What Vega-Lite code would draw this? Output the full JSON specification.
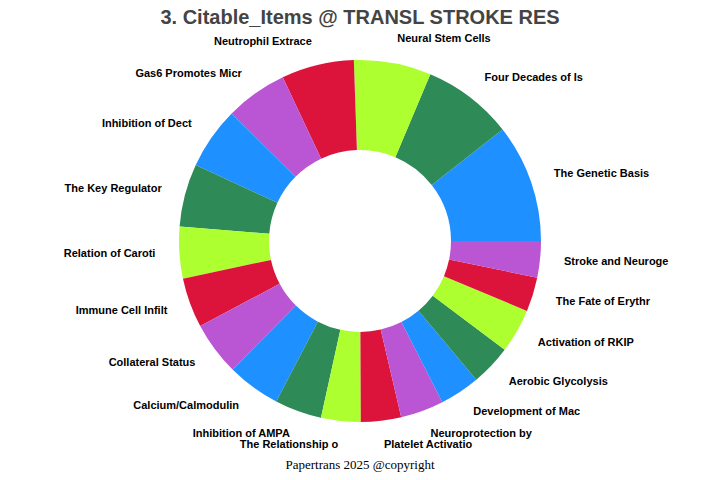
{
  "$schema": "https://vega.github.io/schema/vega-lite/v6.json",
  "background": "#ffffff",
  "padding": {"top": 8, "left": 0, "right": 0, "bottom": 0},
  "spacing": 0,
  "config": {"view": {"stroke": null}, "font": "Liberation Sans"},
  "title": {
    "text": "Papertrans 2025 @copyright",
    "orient": "bottom",
    "anchor": "middle",
    "font": "Liberation Serif",
    "fontSize": 13,
    "fontWeight": "normal",
    "color": "#000000",
    "offset": 9
  },
  "vconcat": [
    {
      "title": {
        "text": "3. Citable_Items @ TRANSL STROKE RES",
        "anchor": "middle",
        "font": "Liberation Sans",
        "fontSize": 20,
        "fontWeight": "bold",
        "color": "#444444",
        "offset": 4
      },
      "width": 720,
      "height": 418,
      "data": {
        "values": [
          {"idx": 1, "label": "The Genetic Basis", "value": 38.0},
          {"idx": 2, "label": "Four Decades of Is", "value": 29.1},
          {"idx": 3, "label": "Neural Stem Cells", "value": 24.8},
          {"idx": 4, "label": "Neutrophil Extrace", "value": 23.3},
          {"idx": 5, "label": "Gas6 Promotes Micr", "value": 19.9},
          {"idx": 6, "label": "Inhibition of Dect", "value": 20.0},
          {"idx": 7, "label": "The Key Regulator", "value": 20.2},
          {"idx": 8, "label": "Relation of Caroti", "value": 16.6},
          {"idx": 9, "label": "Immune Cell Infilt", "value": 16.0},
          {"idx": 10, "label": "Collateral Status", "value": 17.2},
          {"idx": 11, "label": "Calcium/Calmodulin", "value": 17.2},
          {"idx": 12, "label": "Inhibition of AMPA", "value": 15.1},
          {"idx": 13, "label": "The Relationship o", "value": 12.7},
          {"idx": 14, "label": "Platelet Activatio", "value": 12.9},
          {"idx": 15, "label": "Neuroprotection by", "value": 13.9},
          {"idx": 16, "label": "Development of Mac", "value": 12.9},
          {"idx": 17, "label": "Aerobic Glycolysis", "value": 13.1},
          {"idx": 18, "label": "Activation of RKIP", "value": 14.2},
          {"idx": 19, "label": "The Fate of Erythr", "value": 11.0},
          {"idx": 20, "label": "Stroke and Neuroge", "value": 11.7}
        ]
      },
      "encoding": {
        "theta": {
          "field": "value",
          "type": "quantitative",
          "stack": true,
          "scale": {"range": [1.5707963, -4.712389]}
        },
        "order": {"field": "idx", "type": "quantitative"}
      },
      "layer": [
        {
          "mark": {"type": "arc", "innerRadius": 91, "outerRadius": 181},
          "encoding": {
            "color": {
              "field": "label",
              "type": "nominal",
              "legend": null,
              "scale": {
                "domain": [
                  "The Genetic Basis", "Four Decades of Is", "Neural Stem Cells", "Neutrophil Extrace", "Gas6 Promotes Micr",
                  "Inhibition of Dect", "The Key Regulator", "Relation of Caroti", "Immune Cell Infilt", "Collateral Status",
                  "Calcium/Calmodulin", "Inhibition of AMPA", "The Relationship o", "Platelet Activatio", "Neuroprotection by",
                  "Development of Mac", "Aerobic Glycolysis", "Activation of RKIP", "The Fate of Erythr", "Stroke and Neuroge"
                ],
                "range": [
                  "#1e90ff", "#2e8b57", "#adff2f", "#dc143c", "#ba55d3",
                  "#1e90ff", "#2e8b57", "#adff2f", "#dc143c", "#ba55d3",
                  "#1e90ff", "#2e8b57", "#adff2f", "#dc143c", "#ba55d3",
                  "#1e90ff", "#2e8b57", "#adff2f", "#dc143c", "#ba55d3"
                ]
              }
            }
          }
        },
        {
          "mark": {"type": "text", "radius": 205, "align": "left", "baseline": "middle", "fontSize": 11, "fontWeight": "bold", "color": "#000000"},
          "encoding": {
            "detail": {"field": "label", "type": "nominal"},
            "text": {
              "condition": {"test": "datum.idx <= 3 || datum.idx >= 14", "field": "label", "type": "nominal"},
              "value": ""
            }
          }
        },
        {
          "mark": {"type": "text", "radius": 205, "align": "right", "baseline": "middle", "fontSize": 11, "fontWeight": "bold", "color": "#000000"},
          "encoding": {
            "detail": {"field": "label", "type": "nominal"},
            "text": {
              "condition": {"test": "datum.idx > 3 && datum.idx < 14", "field": "label", "type": "nominal"},
              "value": ""
            }
          }
        }
      ]
    }
  ]
}
